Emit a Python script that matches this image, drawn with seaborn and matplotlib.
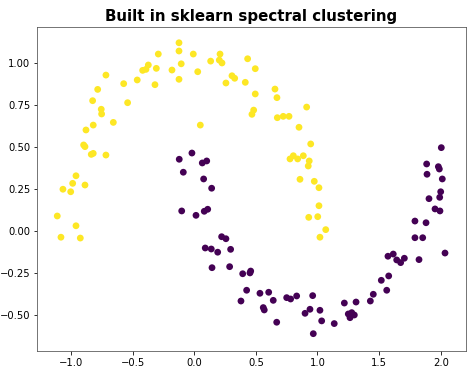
"""Two moons coloured by spectral clustering labels."""
import numpy as np
import pandas as pd
import matplotlib
matplotlib.use('Agg')
import matplotlib.pyplot as plt
import seaborn as sns

# cluster 1 (yellow)
x_yellow = [-0.124, -0.124, -0.292, -0.373, -0.392, -0.419, -0.308, -0.106, -0.181, -0.124,
            -0.319, -0.463, -0.573, -0.717, -0.784, -0.825, -0.541, -0.755, -0.752, -0.657,
            -0.820, -0.879, -0.898, -0.887, -0.836, -0.820, -0.717, -0.008, 0.028, 0.133,
            0.209, 0.203, 0.225, 0.433, 0.495, 0.306, 0.328, 0.257, 0.414, 0.495,
            0.655, 0.671, 0.912, 0.482, 0.468, 0.674, 0.722, 0.769, 0.850, 0.049,
            0.945, -0.960, -0.987, -0.887, -1.066, -1.003, -1.112, -0.960, -1.082, -0.925,
            0.777, 0.804, 0.839, 0.885, 0.933, 0.925, 0.858, 0.974, 1.012, 1.012,
            0.929, 1.002, 1.067, 1.020]
y_yellow = [1.118, 1.069, 1.051, 0.986, 0.960, 0.954, 0.966, 0.993, 0.956, 0.901,
            0.869, 0.897, 0.875, 0.926, 0.841, 0.774, 0.762, 0.723, 0.695, 0.645,
            0.629, 0.600, 0.511, 0.501, 0.455, 0.461, 0.451, 1.051, 0.946, 1.009,
            1.051, 1.015, 0.998, 1.023, 0.964, 0.922, 0.907, 0.879, 0.883, 0.814,
            0.843, 0.792, 0.736, 0.718, 0.693, 0.673, 0.681, 0.681, 0.616, 0.629,
            0.517, 0.328, 0.283, 0.273, 0.248, 0.233, 0.089, 0.031, -0.037, -0.042,
            0.428, 0.447, 0.428, 0.447, 0.416, 0.386, 0.307, 0.295, 0.257, 0.150,
            0.081, 0.085, 0.008, -0.037]

# cluster 0 (purple)
x_purple = [-0.122, -0.019, -0.089, -0.102, 0.065, 0.101, 0.076, 0.141, 0.014, 0.081,
            0.109, 0.222, 0.257, 0.089, 0.138, 0.190, 0.295, 0.144, 0.287, 0.393,
            0.452, 0.458, 0.425, 0.379, 0.533, 0.604, 0.641, 0.560, 0.568, 0.669,
            0.750, 0.782, 0.831, 0.961, 0.899, 0.939, 1.020, 1.034, 0.966, 2.005,
            1.886, 1.981, 1.989, 1.889, 2.013, 2.000, 1.992, 1.905, 1.954, 1.994,
            1.791, 1.881, 1.791, 1.854, 2.035, 1.572, 1.615, 1.643, 1.675, 1.705,
            1.824, 1.578, 1.518, 1.562, 1.453, 1.429, 1.313, 1.218, 1.250, 1.278,
            1.264, 1.299, 1.136]
y_purple = [0.426, 0.463, 0.349, 0.119, 0.404, 0.416, 0.309, 0.254, 0.093, 0.117,
            0.129, -0.034, -0.046, -0.101, -0.107, -0.126, -0.109, -0.218, -0.212, -0.254,
            -0.249, -0.238, -0.352, -0.416, -0.370, -0.364, -0.412, -0.455, -0.469, -0.542,
            -0.396, -0.404, -0.386, -0.384, -0.489, -0.465, -0.471, -0.534, -0.610, 0.495,
            0.398, 0.382, 0.368, 0.337, 0.309, 0.233, 0.200, 0.192, 0.131, 0.119,
            0.059, 0.049, -0.040, -0.040, -0.131, -0.150, -0.137, -0.172, -0.188, -0.162,
            -0.170, -0.267, -0.293, -0.352, -0.376, -0.416, -0.422, -0.428, -0.493, -0.485,
            -0.515, -0.499, -0.550]

df = pd.DataFrame({
    'x': x_yellow + x_purple,
    'y': y_yellow + y_purple,
    'label': [1] * len(x_yellow) + [0] * len(x_purple),
})

fig = plt.figure(figsize=(474 / 72, 377 / 72), dpi=72)
ax = fig.add_axes([0.0787, 0.0698, 0.9038, 0.8592])
sns.scatterplot(data=df, x='x', y='y', hue='label',
                palette={0: '#440154', 1: '#fde725'},
                s=46, linewidth=0, legend=False, ax=ax)
ax.set_xlim(-1.274, 2.203)
ax.set_ylim(-0.711, 1.213)
ax.set_xlabel('')
ax.set_ylabel('')
ax.set_xticks([-1.0, -0.5, 0.0, 0.5, 1.0, 1.5, 2.0])
ax.set_yticks([-0.5, -0.25, 0.0, 0.25, 0.5, 0.75, 1.0])
ax.set_title('Built in sklearn spectral clustering', fontsize=15,
             fontweight='bold', pad=6)
for sp in ax.spines.values():
    sp.set_color('#555555')

fig.savefig('out.png', dpi=72)
